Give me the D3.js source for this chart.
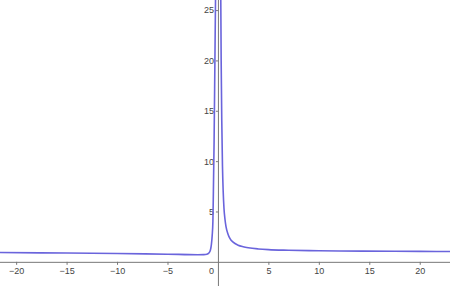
<!DOCTYPE html>
<html>
<head>
<meta charset="utf-8">
<script src="https://cdn.jsdelivr.net/npm/d3@7"></script>
<style>
  body { margin: 0; background: #fff; }
  svg { display: block; }
  .axis text { font-family: "Liberation Sans", Arial, sans-serif; font-size: 9px; fill: #444; }
  .axis path, .axis line { stroke: #777; }
</style>
</head>
<body>
<script>
var width = 450,
    height = 286;

// waarden
var xTicks = [-20, -15, -10, -5, 5, 10, 15, 20];
var yTicks = [5, 10, 15, 20, 25];

// linker tak (x < 0)
var leftX = [-21.6, -15, -10, -5, -2, -1.4, -1.1, -0.9, -0.75, -0.65, -0.57, -0.5, -0.45, -0.38, -0.3, -0.22];
var leftY = [0.92, 0.87, 0.82, 0.76, 0.71, 0.72, 0.76, 0.88, 1.15, 1.7, 2.6, 4, 7, 12, 20, 28];

// rechter tak (x > 0)
var rightX = [0.27, 0.32, 0.38, 0.45, 0.52, 0.6, 0.7, 0.8, 1.0, 1.2, 1.5, 2.0, 2.5, 3.0, 4.0, 5.0, 7.0, 10, 14.4, 20, 23.2];
var rightY = [28, 20, 14, 9.5, 7, 5.3, 4.2, 3.5, 2.75, 2.3, 1.95, 1.65, 1.5, 1.4, 1.28, 1.21, 1.15, 1.1, 1.06, 1.04, 1.02];

var x = d3.scaleLinear().domain([-21.6, 23.0]).range([0, width]);
var y = d3.scaleLinear().domain([-2.4, 26.0]).range([height, 0]);

var svg = d3.select("body").append("svg")
    .attr("width", width)
    .attr("height", height);

svg.append("clipPath").attr("id", "clip")
  .append("rect").attr("width", width).attr("height", height);

// x-as
var xAxis = svg.append("g")
    .attr("class", "axis")
    .attr("transform", "translate(0," + y(0) + ")")
    .call(d3.axisBottom(x).tickValues(xTicks).tickSize(3).tickPadding(3));
xAxis.select(".domain").attr("d", "M0,0.5H" + width);

// y-as
var yAxis = svg.append("g")
    .attr("class", "axis")
    .attr("transform", "translate(" + x(0) + ",0)")
    .call(d3.axisLeft(y).tickValues(yTicks).tickSize(2).tickPadding(2));
yAxis.select(".domain").attr("d", "M0.5,0V" + height);

// nul bij de oorsprong
svg.append("text")
    .attr("x", x(0) - 4)
    .attr("y", y(0) + 12)
    .attr("text-anchor", "end")
    .style("font-family", "Liberation Sans, Arial, sans-serif")
    .style("font-size", "9px")
    .style("fill", "#444")
    .text("0");

var line = d3.line()
    .x(function(d) { return x(d[0]); })
    .y(function(d) { return y(d[1]); })
    .curve(d3.curveMonotoneX);

var branches = [d3.zip(leftX, leftY), d3.zip(rightX, rightY)];

svg.append("g").attr("clip-path", "url(#clip)")
  .selectAll(".branch")
    .data(branches)
  .enter().append("path")
    .attr("class", "branch")
    .attr("d", line)
    .style("fill", "none")
    .style("stroke", "#6a64dc")
    .style("stroke-width", 1.6);
</script>
</body>
</html>
